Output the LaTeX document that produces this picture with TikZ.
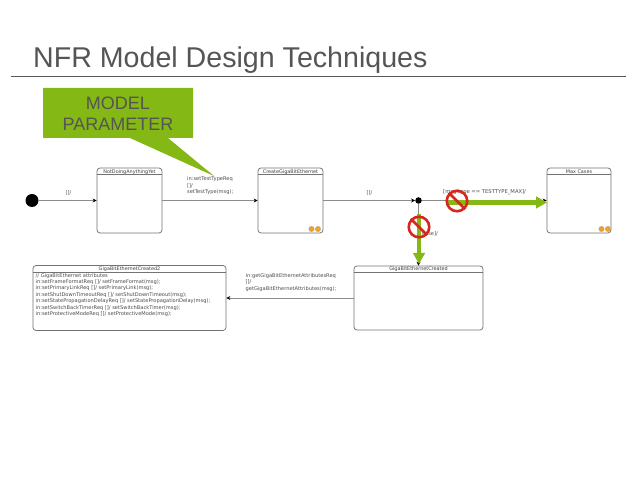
\documentclass[tikz,border=0pt]{standalone}
\usepackage{fontspec}
\setmainfont{Liberation Sans}
\newfontfamily\dv{DejaVu Sans}
\usetikzlibrary{calc,arrows.meta}
\definecolor{ink}{HTML}{555555}
\definecolor{grn}{HTML}{84B814}
\definecolor{nored}{HTML}{D8261C}
\definecolor{orng}{HTML}{EDA32B}
\tikzset{
  x=1pt,y=-1pt,
  statebox/.style={draw=black!55,line width=0.75pt,rounded corners=3pt,fill=white,inner sep=0pt},
  headtext/.style={font=\dv\fontsize{4.9}{5}\selectfont,text=black!75,inner sep=0pt},
  lbl/.style={font=\dv\fontsize{5.1}{6.5}\selectfont,text=black!70,inner sep=0pt,align=left},
  conn/.style={draw=black!45,line width=0.9pt,-{Stealth[length=4pt,width=4pt,black]}},
  greenarrow/.style={draw=grn,line width=4.2pt,-{Triangle[length=11pt,width=11.5pt,fill=grn]}},
  nosign/.style={circle,draw=nored,line width=2.6pt,minimum size=20.5pt,inner sep=0pt},
  orangedot/.style={circle,fill=orng,draw=black!35,line width=0.2pt,minimum size=5.6pt,inner sep=0pt},
}
\newcommand{\headline}[1]{\draw[black!55,line width=0.6pt] ($(#1.north west)+(0,7)$) -- ($(#1.north east)+(0,7)$);}
\begin{document}
\begin{tikzpicture}
\useasboundingbox[fill=white] (0,0) rectangle (638,478);
% title
\node[anchor=base west,inner sep=0pt,text=ink,font=\fontsize{28.6}{30}\selectfont] (title) at (33,68) {NFR Model Design Techniques};
\coordinate (ruleL) at (11,76.5);
\coordinate (ruleR) at (626,76.5);
\draw[black!65,line width=1.4pt] (ruleL) -- (ruleR);
% callout
\fill[grn] (43,88) -- (193,88) -- (193,138) -- (168,138) -- (214,176) -- (130,138) -- (43,138) -- cycle;
\node[align=center,text=ink,inner sep=0pt,font=\fontsize{18}{21}\selectfont] (callout) at (118,114) {MODEL\\PARAMETER};
% states
\node[circle,fill=black,minimum size=13pt,inner sep=0pt] (init) at (32,200.5) {};
\node[statebox,minimum width=65pt,minimum height=65pt] (a) at (129.5,200.5) {};
\node[statebox,minimum width=65pt,minimum height=65pt] (b) at (290.5,200.5) {};
\node[statebox,minimum width=64pt,minimum height=65pt] (c) at (579,200.5) {};
\node[statebox,minimum width=129pt,minimum height=64pt] (d) at (418.5,298) {};
\node[statebox,minimum width=193pt,minimum height=65pt] (e) at (129.5,298) {};
\node[circle,fill=black,minimum size=6.5pt,inner sep=0pt] (j) at (418.5,200.5) {};
\headline{a}\headline{b}\headline{c}\headline{d}\headline{e}
\node[headtext] (ta) at (129.5,172) {NotDoingAnythingYet};
\node[headtext] (tb) at (290.5,172) {CreateGigaBitEthernet};
\node[headtext] (tc) at (579,172) {Max Cases};
\node[headtext] (td) at (418.5,269.5) {GigaBitEthernetCreated};
\node[headtext] (te) at (129.5,269) {GigaBitEthernetCreated2};
\node[orangedot] (o1) at (311.5,229) {};
\node[orangedot] (o2) at (318,229) {};
\node[orangedot] (o3) at (601.5,229) {};
\node[orangedot] (o4) at (608,229) {};
% connectors
\draw[conn] (init) -- (a);
\draw[conn] (a) -- (b);
\draw[conn] (b) -- (j);
\draw[conn] (j) -- (c);
\draw[conn] (j) -- (d);
\draw[conn] (d) -- (e);
% labels
\node[lbl,anchor=west] (l1) at (65.5,192.5) {[]/};
\node[lbl,anchor=north west] (l2) at (187,176.5) {in:setTestTypeReq\\[0pt][]/\\[0pt]setTestType(msg);};
\node[lbl,anchor=west] (l3) at (366.5,192.5) {[]/};
\node[lbl,anchor=west,font=\dv\fontsize{5.25}{6.5}\selectfont] (l4) at (443,192.5) {[msg.type == TESTTYPE\_MAX]/};
\node[lbl,anchor=east] (l5) at (438,233.5) {[else]/};
\node[lbl,anchor=north west] (l6) at (245.5,273) {in:getGigaBitEthernetAttributesReq\\[0pt][]/\\[0pt]getGigaBitEthernetAttributes(msg);};
\node[lbl,anchor=north west,font=\dv\fontsize{5.1}{6.4}\selectfont] (l7) at (35.5,273) {// GigaBitEthernet attributes\\[0pt]
in:setFrameFormatReq []/ setFrameFormat(msg);\\[0pt]
in:setPrimaryLinkReq []/ setPrimaryLink(msg);\\[0pt]
in:setShutDownTimeoutReq []/ setShutDownTimeout(msg);\\[0pt]
in:setStatePropagationDelayReq []/ setStatePropagationDelay(msg);\\[0pt]
in:setSwitchBackTimerReq []/ setSwitchBackTimer(msg);\\[0pt]
in:setProtectiveModeReq []/ setProtectiveMode(msg);};
% green arrows
\coordinate (g1s) at (446,202.5);
\coordinate (g1e) at (547,202.5);
\coordinate (g2s) at (419,214);
\coordinate (g2e) at (419,264);
\draw[greenarrow] (g1s) -- (g1e);
\draw[greenarrow] (g2s) -- (g2e);
% no signs
\node[nosign] (n1) at (457,201) {};
\draw[nored,line width=2.6pt] (n1.north west) -- (n1.south east);
\node[nosign] (n2) at (419,227) {};
\draw[nored,line width=2.6pt] (n2.north west) -- (n2.south east);
\end{tikzpicture}
\end{document}
